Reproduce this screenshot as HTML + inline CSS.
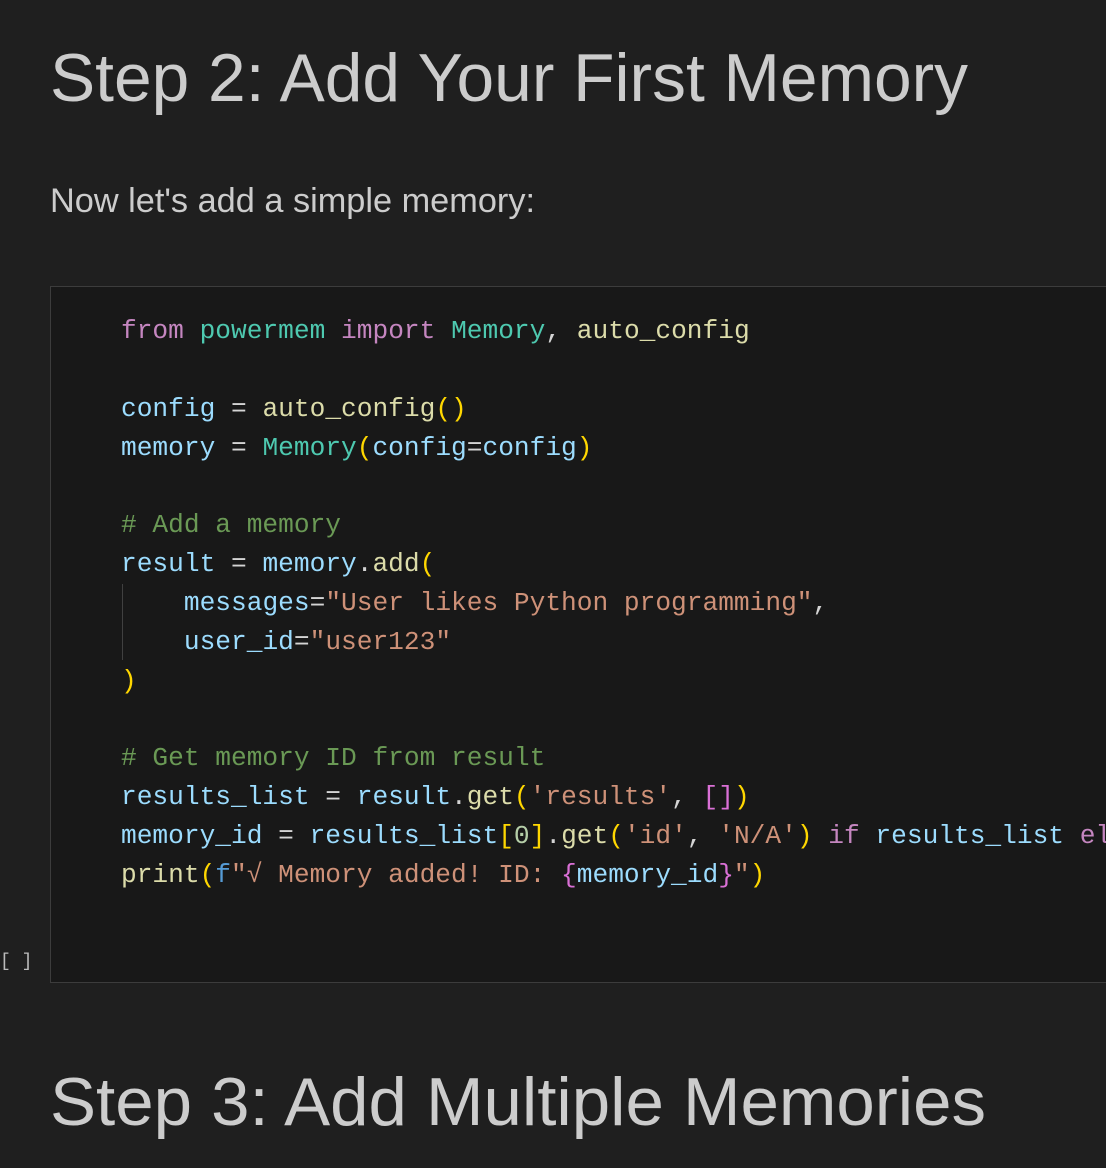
<!DOCTYPE html>
<html><head><meta charset="utf-8"><style>
body{margin:0;width:1106px;height:1168px;background:#1f1f1f;overflow:hidden;position:relative;font-family:"Liberation Sans",sans-serif}
svg.t{position:absolute;left:0;top:0}
.box{position:absolute;left:50px;top:286px;width:1070px;height:695px;background:#181818;border:1px solid #3c3c3c;border-right:none}
pre{position:absolute;left:121px;top:312px;margin:0;font-family:"Liberation Mono",monospace;font-size:26.2px;line-height:38.85px;color:#d4d4d4;white-space:pre}
.k{color:#c586c0}.c{color:#4ec9b0}.v{color:#9cdcfe}.f{color:#dcdcaa}.s{color:#ce9178}.g{color:#6a9955}.p{color:#ffd700}.b{color:#da70d6}.n{color:#b5cea8}.bl{color:#569cd6}
.guide{position:absolute;left:122px;top:584px;width:1px;height:76px;background:#404040}
.br{position:absolute;left:0;top:952px;font-family:"Liberation Mono",monospace;font-size:18px;color:#bbb}
</style></head><body>
<svg class="t" width="1106" height="1168">
<text x="50" y="101" font-size="68" fill="#cccccc" textLength="918" lengthAdjust="spacingAndGlyphs">Step 2: Add Your First Memory</text>
<text x="50" y="212" font-size="34" fill="#cccccc" textLength="485" lengthAdjust="spacingAndGlyphs">Now let's add a simple memory:</text>
<text x="50" y="1125" font-size="68" fill="#cccccc" textLength="936" lengthAdjust="spacingAndGlyphs">Step 3: Add Multiple Memories</text>
</svg>
<div class="box"></div>
<div class="guide"></div>
<pre><span class="k">from</span> <span class="c">powermem</span> <span class="k">import</span> <span class="c">Memory</span>, <span class="f">auto_config</span>

<span class="v">config</span> = <span class="f">auto_config</span><span class="p">()</span>
<span class="v">memory</span> = <span class="c">Memory</span><span class="p">(</span><span class="v">config</span>=<span class="v">config</span><span class="p">)</span>

<span class="g"># Add a memory</span>
<span class="v">result</span> = <span class="v">memory</span>.<span class="f">add</span><span class="p">(</span>
    <span class="v">messages</span>=<span class="s">"User likes Python programming"</span>,
    <span class="v">user_id</span>=<span class="s">"user123"</span>
<span class="p">)</span>

<span class="g"># Get memory ID from result</span>
<span class="v">results_list</span> = <span class="v">result</span>.<span class="f">get</span><span class="p">(</span><span class="s">'results'</span>, <span class="b">[]</span><span class="p">)</span>
<span class="v">memory_id</span> = <span class="v">results_list</span><span class="p">[</span><span class="n">0</span><span class="p">]</span>.<span class="f">get</span><span class="p">(</span><span class="s">'id'</span>, <span class="s">'N/A'</span><span class="p">)</span> <span class="k">if</span> <span class="v">results_list</span> <span class="k">else</span>
<span class="f">print</span><span class="p">(</span><span class="bl">f</span><span class="s">"√ Memory added! ID: </span><span class="b">{</span><span class="v">memory_id</span><span class="b">}</span><span class="s">"</span><span class="p">)</span></pre>
<div class="br">[ ]</div>
</body></html>
